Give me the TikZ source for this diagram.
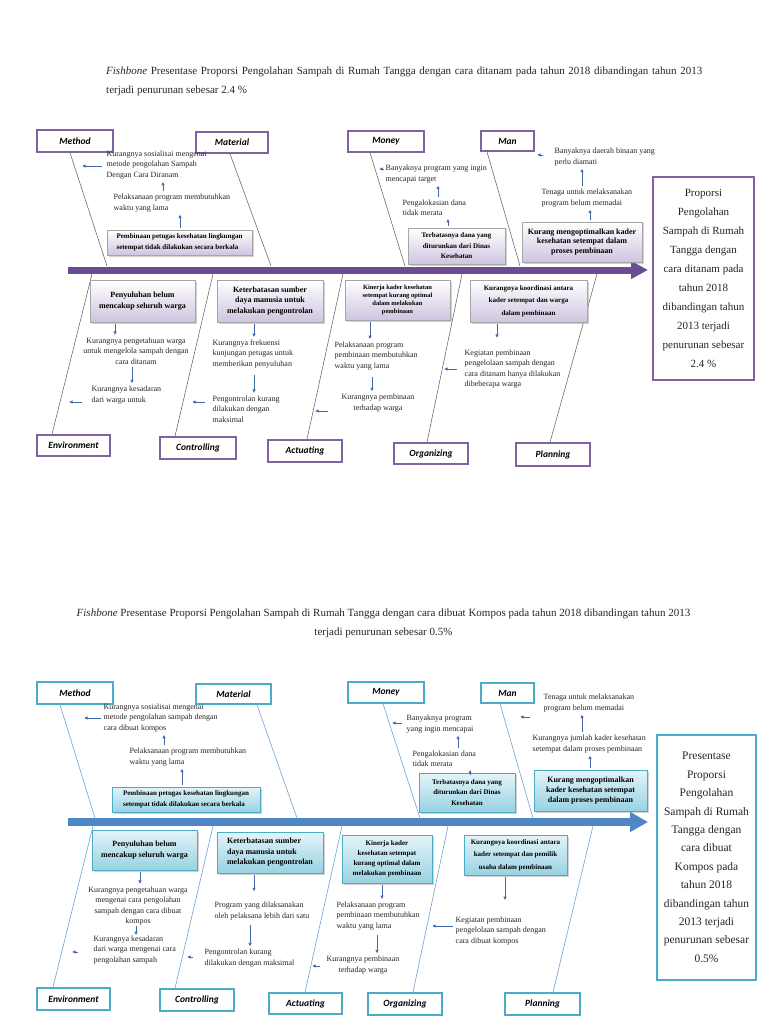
\documentclass[tikz,border=0pt]{standalone}
\usepackage{fontspec}
\setmainfont{Liberation Serif}
\newfontfamily\lblfont{Carlito}
\usetikzlibrary{arrows.meta,shadows}
\definecolor{purpB}{HTML}{8064A2}
\definecolor{purpS}{HTML}{6A4C93}
\definecolor{purpL}{HTML}{CFC4DF}
\definecolor{tealB}{HTML}{4BACC6}
\definecolor{blueS}{HTML}{4F86C6}
\definecolor{cyanT}{HTML}{E3F4F9}
\definecolor{cyanL}{HTML}{98D2E2}
\definecolor{arrB}{HTML}{4169A8}
\definecolor{boneB}{HTML}{6FA3D8}
\tikzset{
  lbl/.style={draw, line width=1.6pt, fill=white, inner sep=1pt, text=black,
    font=\lblfont\fontsize{9.5}{11}\selectfont\bfseries\itshape},
  lblT/.style={lbl, draw=purpB},
  lblB/.style={lbl, draw=tealB},
  boneT/.style={draw=black!65, line width=0.5pt},
  boneB/.style={draw=boneB, line width=0.6pt},
  txt/.style={inner sep=0.5pt, align=left, text=black!85, font=\fontsize{8}{10.5}\selectfont},
  ctxt/.style={txt, align=center},
  cbT/.style={draw=black!35, line width=0.6pt, top color=white, bottom color=purpL,
    drop shadow={shadow xshift=1.5pt, shadow yshift=-1.5pt, opacity=0.35},
    inner sep=1pt, align=center, text=black},
  cbB/.style={draw=tealB, line width=0.8pt, top color=cyanT, bottom color=cyanL,
    drop shadow={shadow xshift=1.5pt, shadow yshift=-1.5pt, opacity=0.35},
    inner sep=1pt, align=center, text=black},
  fsm/.style={font=\fontsize{7}{10.5}\selectfont\bfseries},
  fbg/.style={font=\fontsize{8}{10.5}\selectfont\bfseries},
  sarr/.style={draw=arrB, line width=0.9pt, -{Latex[length=3.5pt,width=3.5pt]},
    shorten >=2pt, shorten <=2pt},
  resT/.style={draw=purpB, line width=1.8pt, align=center, text=black!85, inner sep=2pt},
  resB/.style={draw=tealB, line width=1.6pt, align=center, text=black!85, inner sep=2pt},
  ttl/.style={inner sep=0pt, text=black!85, font=\fontsize{11}{19}\selectfont}
}
\begin{document}
\begin{tikzpicture}[x=1pt,y=-1pt]
\useasboundingbox (0,0) rectangle (768,1024);
\fill[white] (0,0) rectangle (768,1024);

% ================= TOP DIAGRAM =================
\node[ttl, anchor=west] (Ttit1) at (106,72) {\makebox[596pt][s]{\textit{Fishbone} Presentase Proporsi Pengolahan Sampah di Rumah Tangga dengan cara ditanam pada tahun 2018 dibandingan tahun 2013}};
\node[ttl, anchor=west] (Ttit2) at (106,91) {terjadi penurunan sebesar 2.4 \%};

% category boxes
\node[lblT, minimum width=76pt, minimum height=22pt] (Tmethod) at (75,141) {Method};
\node[lblT, minimum width=72pt, minimum height=21pt] (Tmaterial) at (232,142.5) {Material};
\node[lblT, minimum width=76pt, minimum height=21pt] (Tmoney) at (386,141.5) {Money};
\node[lblT, minimum width=53pt, minimum height=20pt] (Tman) at (507.5,141) {Man};
\node[lblT, minimum width=73pt, minimum height=21pt] (Tenv) at (73.5,445.5) {Environment};
\node[lblT, minimum width=76pt, minimum height=22pt] (Tctrl) at (198,448) {Controlling};
\node[lblT, minimum width=74pt, minimum height=22pt] (Tact) at (305,451) {Actuating};
\node[lblT, minimum width=74pt, minimum height=21pt] (Torg) at (431,453.5) {Organizing};
\node[lblT, minimum width=74pt, minimum height=23pt] (Tplan) at (553,454.5) {Planning};

% spine
\coordinate (Ts0) at (68,270);
\coordinate (Ts1) at (648,270);
\draw[purpS, line width=7pt, -{Triangle[length=17pt,width=17pt]}] (Ts0) -- (Ts1);

% bones
\coordinate (TsMe) at (107,266); \coordinate (TsMa) at (271,266);
\coordinate (TsMo) at (405,266); \coordinate (TsMn) at (520,266);
\coordinate (TsEn) at (92,274);  \coordinate (TsCo) at (213,274);
\coordinate (TsAc) at (343,274); \coordinate (TsOr) at (462,274);
\coordinate (TsPl) at (597,274);
\draw[boneT] ([xshift=-5pt]Tmethod.south) -- (TsMe);
\draw[boneT] ([xshift=-2pt]Tmaterial.south) -- (TsMa);
\draw[boneT] ([xshift=-16pt]Tmoney.south) -- (TsMo);
\draw[boneT] ([xshift=-20.5pt]Tman.south) -- (TsMn);
\draw[boneT] ([xshift=-21.5pt]Tenv.north) -- (TsEn);
\draw[boneT] ([xshift=-23pt]Tctrl.north) -- (TsCo);
\draw[boneT] ([xshift=2pt]Tact.north) -- (TsAc);
\draw[boneT] ([xshift=-4pt]Torg.north) -- (TsOr);
\draw[boneT] ([xshift=-3pt]Tplan.north) -- (TsPl);

% upper causes
\node[txt, anchor=west] (Tt1) at (106,165) {Kurangnya sosialisai mengenai\\metode pengolahan Sampah\\Dengan Cara Diranam};
\node[txt, anchor=west] (Tt2) at (113,203) {Pelaksanaan program membutuhkan\\waktu yang lama};
\node[cbT, fsm, align=left, minimum width=145pt, minimum height=25pt] (TpB1) at (179.5,242.5) {Pembinaan petugas kesehatan lingkungan\\setempat tidak dilakukan secara berkala};
\node[txt, anchor=west] (Tt3) at (385,174) {Banyaknya program yang ingin\\mencapai target};
\node[txt, anchor=west] (Tt4) at (402,208) {Pengalokasian dana\\tidak merata};
\node[cbT, fsm, minimum width=97pt, minimum height=36pt] (TpB2) at (456.5,246) {Terbatasnya dana yang\\diturunkan dari Dinas\\Kesehatan};
\node[txt, anchor=west] (Tt5) at (554,157) {Banyaknya daerah binaan yang\\perlu diamati};
\node[txt, anchor=west] (Tt6) at (541,198) {Tenaga untuk melaksanakan\\program belum memadai};
\node[cbT, font=\fontsize{8}{9.5}\selectfont\bfseries, minimum width=120pt, minimum height=40pt] (TpB3) at (582,242) {Kurang mengoptimalkan kader\\kesehatan setempat dalam\\proses pembinaan};

% lower causes
\node[cbT, font=\fontsize{8}{11}\selectfont\bfseries, minimum width=105pt, minimum height=42pt] (TlB1) at (142.5,301) {Penyuluhan belum\\mencakup seluruh warga};
\node[cbT, fbg, minimum width=106pt, minimum height=42pt] (TlB2) at (270,301) {Keterbatasan sumber\\daya manusia untuk\\melakukan pengontrolan};
\node[cbT, font=\fontsize{6.5}{8}\selectfont\bfseries, minimum width=105pt, minimum height=40pt] (TlB3) at (397.5,300) {Kinerja kader kesehatan\\setempat kurang optimal\\dalam melakukan\\pembinaan};
\node[cbT, font=\fontsize{7}{12.5}\selectfont\bfseries, minimum width=117pt, minimum height=42pt] (TlB4) at (528.5,301) {Kurangnya koordinasi antara\\kader setempat dan warga\\dalam pembinaan};
\node[ctxt] (Tt7) at (136,351) {Kurangnya pengetahuan warga\\untuk mengelola sampah dengan\\cara ditanam};
\node[txt, anchor=west] (Tt8) at (91,395) {Kurangnya kesadaran\\dari warga untuk};
\node[txt, anchor=west] (Tt9) at (212,354) {Kurangnya frekuensi\\kunjungan petugas untuk\\memberikan penyuluhan};
\node[txt, anchor=west] (Tt10) at (212,409) {Pengontrolan kurang\\dilakukan dengan\\maksimal};
\node[txt, anchor=west] (Tt11) at (334,356) {Pelaksanaan program\\pembinaan membutuhkan\\waktu yang lama};
\node[ctxt] (Tt12) at (378,403) {Kurangnya pembinaan\\terhadap warga};
\node[txt, anchor=west] (Tt13) at (464,369) {Kegiatan pembinaan\\pengelolaan sampah dengan\\cara ditanam hanya dilakukan\\dibeberapa warga};

% result box
\node[resT, font=\fontsize{11}{19}\selectfont, minimum width=101pt, minimum height=203pt] (Tres) at (703.5,278.5) {Proporsi\\Pengolahan\\Sampah di Rumah\\Tangga dengan\\cara ditanam pada\\tahun 2018\\dibandingan tahun\\2013 terjadi\\penurunan sebesar\\2.4 \%};

% arrows top
\coordinate (TcMe) at (80,166);
\coordinate (TcMo) at (377,169);
\coordinate (TcMa) at (535,155);
\coordinate (TcEn) at (67,402);
\coordinate (TcCo) at (190,402);
\coordinate (TcAc) at (313,411);
\coordinate (TcOr) at (442,369);
\draw[sarr, shorten <=4pt] (TcMe -| Tt1.west) -- (TcMe);
\draw[sarr, shorten <=1pt] (TcMo -| Tt3.west) -- (TcMo);
\draw[sarr, shorten <=11pt] (TcMa -| Tt5.west) -- (TcMa);
\draw[sarr, shorten <=9pt] (TcEn -| Tt8.west) -- (TcEn);
\draw[sarr, shorten <=7pt] (TcCo -| Tt10.west) -- (TcCo);
\draw[sarr, shorten <=13pt] (TcAc -| Tt12.west) -- (TcAc);
\draw[sarr, shorten <=7pt] (TcOr -| Tt13.west) -- (TcOr);

\draw[sarr] ([xshift=50pt]Tt2.north west) -- ([xshift=50pt]Tt2.north west |- Tt1.south);
\draw[sarr] ([xshift=0.5pt]TpB1.north) -- ([xshift=0.5pt]TpB1.north |- Tt2.south);
\draw[sarr] ([xshift=36pt]Tt4.north west) -- ([xshift=36pt]Tt4.north west |- Tt3.south);
\draw[sarr] ([xshift=-8.5pt]TpB2.north) -- ([xshift=-8.5pt]TpB2.north |- Tt4.south);
\draw[sarr] ([xshift=41pt]Tt6.north west) -- ([xshift=41pt]Tt6.north west |- Tt5.south);
\draw[sarr] ([xshift=8pt]TpB3.north) -- ([xshift=8pt]TpB3.north |- Tt6.south);
\draw[sarr] ([xshift=-27.5pt]TlB1.south) -- ([xshift=-27.5pt]TlB1.south |- Tt7.north);
\draw[sarr] ([xshift=-4pt]Tt7.south) -- ([xshift=-4pt]Tt7.south |- Tt8.north);
\draw[sarr] ([xshift=-16pt]TlB2.south) -- ([xshift=-16pt]TlB2.south |- Tt9.north);
\draw[sarr, shorten <=6pt] ([xshift=42pt]Tt9.south west) -- ([xshift=42pt]Tt9.south west |- Tt10.north);
\draw[sarr] ([xshift=-27.5pt]TlB3.south) -- ([xshift=-27.5pt]TlB3.south |- Tt11.north);
\draw[sarr, shorten <=6pt] ([xshift=38pt]Tt11.south west) -- ([xshift=38pt]Tt11.south west |- Tt12.north);
\draw[sarr, shorten >=11pt] ([xshift=-31.5pt]TlB4.south) -- ([xshift=-31.5pt]TlB4.south |- Tt13.north);

% ================= BOTTOM DIAGRAM =================
\node[ttl] (Btit1) at (383.5,614) {\textit{Fishbone} Presentase Proporsi Pengolahan Sampah di Rumah Tangga dengan cara dibuat Kompos pada tahun 2018 dibandingan tahun 2013};
\node[ttl] (Btit2) at (383.5,633) {terjadi penurunan sebesar 0.5\%};

\node[lblB, minimum width=76pt, minimum height=22pt] (Bmethod) at (75,693) {Method};
\node[lblB, minimum width=75pt, minimum height=20pt] (Bmaterial) at (233.5,694) {Material};
\node[lblB, minimum width=76pt, minimum height=21pt] (Bmoney) at (386,692.5) {Money};
\node[lblB, minimum width=53pt, minimum height=20pt] (Bman) at (507.5,693) {Man};
\node[lblB, minimum width=73pt, minimum height=22pt] (Benv) at (73.5,999) {Environment};
\node[lblB, minimum width=74pt, minimum height=22pt] (Bctrl) at (197,1000) {Controlling};
\node[lblB, minimum width=73pt, minimum height=21pt] (Bact) at (305.5,1003.5) {Actuating};
\node[lblB, minimum width=74pt, minimum height=22pt] (Borg) at (405,1004) {Organizing};
\node[lblB, minimum width=75pt, minimum height=22pt] (Bplan) at (542.5,1004) {Planning};

\coordinate (Bs0) at (68,822);
\coordinate (Bs1) at (648,822);
\draw[blueS, line width=8pt, -{Triangle[length=18pt,width=19pt]}] (Bs0) -- (Bs1);

\coordinate (BsMe) at (95,818); \coordinate (BsMa) at (297,818);
\coordinate (BsMo) at (420,818); \coordinate (BsMn) at (533,818);
\coordinate (BsEn) at (93,826);  \coordinate (BsCo) at (213,826);
\coordinate (BsAc) at (342,826); \coordinate (BsOr) at (448,826);
\coordinate (BsPl) at (593,826);
\draw[boneB] ([xshift=-15pt]Bmethod.south) -- (BsMe);
\draw[boneB] ([xshift=23.5pt]Bmaterial.south) -- (BsMa);
\draw[boneB] ([xshift=-3pt]Bmoney.south) -- (BsMo);
\draw[boneB] ([xshift=-7.5pt]Bman.south) -- (BsMn);
\draw[boneB] ([xshift=-20.5pt]Benv.north) -- (BsEn);
\draw[boneB] ([xshift=-22pt]Bctrl.north) -- (BsCo);
\draw[boneB] ([xshift=-0.5pt]Bact.north) -- (BsAc);
\draw[boneB] ([xshift=8pt]Borg.north) -- (BsOr);
\draw[boneB] ([xshift=10.5pt]Bplan.north) -- (BsPl);

\node[txt, anchor=west] (Bt1) at (103,718) {Kurangnya sosialisai mengenai\\metode pengolahan sampah dengan\\cara dibuat kompos};
\node[txt, anchor=west] (Bt2) at (129,757) {Pelaksanaan program membutuhkan\\waktu yang lama};
\node[cbB, fsm, align=left, minimum width=148pt, minimum height=25pt] (BpB1) at (186,799.5) {Pembinaan petugas kesehatan lingkungan\\setempat tidak dilakukan secara berkala};
\node[txt, anchor=west] (Bt3) at (406,724) {Banyaknya program\\yang ingin mencapai};
\node[txt, anchor=west] (Bt4) at (412,759) {Pengalokasian dana\\tidak merata};
\node[cbB, fsm, minimum width=96pt, minimum height=39pt] (BpB2) at (467,792.5) {Terbatasnya dana yang\\diturunkan dari Dinas\\Kesehatan};
\node[txt, anchor=west] (Bt5) at (543,703) {Tenaga untuk melaksanakan\\program belum memadai};
\node[txt, anchor=west] (Bt6) at (532,744) {Kurangnya jumlah kader kesehatan\\setempat dalam proses pembinaan};
\node[cbB, font=\fontsize{8}{10}\selectfont\bfseries, minimum width=113pt, minimum height=41pt] (BpB3) at (590.5,790.5) {Kurang mengoptimalkan\\kader kesehatan setempat\\dalam proses pembinaan};

\node[cbB, font=\fontsize{8}{11}\selectfont\bfseries, minimum width=105pt, minimum height=40pt] (BlB1) at (144.5,850) {Penyuluhan belum\\mencakup seluruh warga};
\node[cbB, fbg, align=left, minimum width=106pt, minimum height=41pt] (BlB2) at (270,852.5) {Keterbatasan sumber\\daya manusia untuk\\melakukan pengontrolan};
\node[cbB, font=\fontsize{7}{10}\selectfont\bfseries, minimum width=90pt, minimum height=48pt] (BlB3) at (387,859) {Kinerja kader\\kesehatan setempat\\kurang optimal dalam\\melakukan pembinaan};
\node[cbB, font=\fontsize{7}{12.5}\selectfont\bfseries, minimum width=103pt, minimum height=40pt] (BlB4) at (515.5,855) {Kurangnya koordinasi antara\\kader setempat dan pemilik\\usaha dalam pembinaan};
\node[ctxt] (Bt7) at (138,906) {Kurangnya pengetahuan warga\\mengenai cara pengolahan\\sampah dengan cara dibuat\\kompos};
\node[txt, anchor=west] (Bt8) at (93,950) {Kurangnya kesadaran\\dari warga mengenai cara\\pengolahan sampah};
\node[txt, anchor=west] (Bt9) at (214,911) {Program yang dilaksanakan\\oleh pelaksana lebih dari satu};
\node[txt, anchor=west] (Bt10) at (204,958) {Pengontrolan kurang\\dilakukan dengan maksimal};
\node[txt, anchor=west] (Bt11) at (336,916) {Pelaksanaan program\\pembinaan membutuhkan\\waktu yang lama};
\node[ctxt] (Bt12) at (363,965) {Kurangnya pembinaan\\terhadap warga};
\node[txt, anchor=west] (Bt13) at (455,931) {Kegiatan pembinaan\\pengelolaan sampah dengan\\cara dibuat kompos};

\node[resB, font=\fontsize{11.5}{18.4}\selectfont, minimum width=99pt, minimum height=245pt] (Bres) at (706.5,857.5) {Presentase\\Proporsi\\Pengolahan\\Sampah di Rumah\\Tangga dengan\\cara dibuat\\Kompos pada\\tahun 2018\\dibandingan tahun\\2013 terjadi\\penurunan sebesar\\0.5\%};

\coordinate (BcMe) at (82,718);
\coordinate (BcMo) at (390,723);
\coordinate (BcMa) at (518,717);
\coordinate (BcEn) at (70,952);
\coordinate (BcCo) at (185,957);
\coordinate (BcAc) at (310,966);
\coordinate (BcOr) at (430,926);
\draw[sarr, shorten <=2pt] (BcMe -| Bt1.west) -- (BcMe);
\draw[sarr, shorten <=4pt] (BcMo -| Bt3.west) -- (BcMo);
\draw[sarr, shorten <=13pt] (BcMa -| Bt5.west) -- (BcMa);
\draw[sarr, shorten <=15pt] (BcEn -| Bt8.west) -- (BcEn);
\draw[sarr, shorten <=11pt] (BcCo -| Bt10.west) -- (BcCo);
\draw[sarr, shorten <=6pt] (BcAc -| Bt12.west) -- (BcAc);
\draw[sarr, shorten <=2pt] (BcOr -| Bt13.west) -- (BcOr);

\draw[sarr] ([xshift=35pt]Bt2.north west) -- ([xshift=35pt]Bt2.north west |- Bt1.south);
\draw[sarr] ([xshift=-4pt]BpB1.north) -- ([xshift=-4pt]BpB1.north |- Bt2.south);
\draw[sarr] ([xshift=46pt]Bt4.north west) -- ([xshift=46pt]Bt4.north west |- Bt3.south);
\draw[sarr] ([xshift=3pt]BpB2.north) -- ([xshift=3pt]BpB2.north |- Bt4.south);
\draw[sarr] ([xshift=50pt]Bt6.north west) -- ([xshift=50pt]Bt6.north west |- Bt5.south);
\draw[sarr] ([xshift=-0.5pt]BpB3.north) -- ([xshift=-0.5pt]BpB3.north |- Bt6.south);
\draw[sarr] ([xshift=-4.5pt]BlB1.south) -- ([xshift=-4.5pt]BlB1.south |- Bt7.north);
\draw[sarr, shorten <=0pt, shorten >=0pt] ([xshift=-2pt]Bt7.south) -- ([xshift=-2pt]Bt7.south |- Bt8.north);
\draw[sarr, shorten >=10pt] ([xshift=-16pt]BlB2.south) -- ([xshift=-16pt]BlB2.south |- Bt9.north);
\draw[sarr, shorten <=4pt] ([xshift=36pt]Bt9.south west) -- ([xshift=36pt]Bt9.south west |- Bt10.north);
\draw[sarr] ([xshift=-5pt]BlB3.south) -- ([xshift=-5pt]BlB3.south |- Bt11.north);
\draw[sarr, shorten <=4pt] ([xshift=41pt]Bt11.south west) -- ([xshift=41pt]Bt11.south west |- Bt12.north);
\draw[sarr, shorten >=16pt] ([xshift=-10.5pt]BlB4.south) -- ([xshift=-10.5pt]BlB4.south |- Bt13.north);
\end{tikzpicture}
\end{document}
